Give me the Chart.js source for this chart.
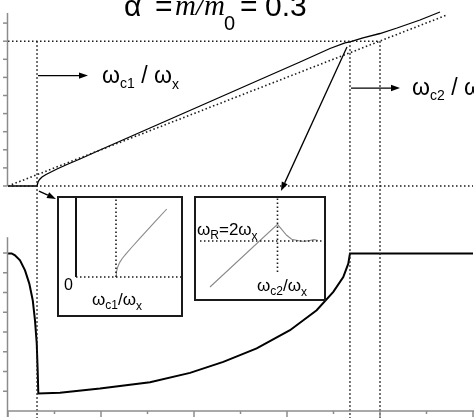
<!DOCTYPE html>
<html><head><meta charset="utf-8">
<script src="https://cdn.jsdelivr.net/npm/chart.js@4"></script>
<style>
html,body{margin:0;padding:0;background:#fff;overflow:hidden;width:474px;height:418px}
#wrap{position:relative;width:474px;height:418px;overflow:hidden}
#main{position:absolute;left:0;top:0}
.inset{position:absolute;border:2px solid #1a1a1a;background:#fff}
.inset canvas{display:block}
.lbl{position:absolute;white-space:nowrap;font-family:"Liberation Sans",Arial,sans-serif;color:#000;line-height:1}
.lbl sub{vertical-align:baseline;position:relative}
</style></head><body>
<div id="wrap">
<canvas id="main" width="474" height="418"></canvas>
<div class="inset" style="left:57px;top:196px;width:122px;height:117px"><canvas id="in1" width="122" height="117"></canvas></div>
<div class="inset" style="left:194px;top:196px;width:128px;height:101px"><canvas id="in2" width="128" height="101"></canvas></div>

<div class="lbl" style="left:124px;top:-9.4px;font-size:30px">α</div>
<div class="lbl" style="left:155px;top:-9.4px;font-size:30px">=</div>
<div class="lbl" style="left:175px;top:-8.6px;font-size:29px;font-family:'Liberation Serif',serif;font-style:italic">m/m</div>
<div class="lbl" style="left:224px;top:13px;font-size:20px">0</div>
<div class="lbl" style="left:240px;top:-9.4px;font-size:30px">=</div>
<div class="lbl" style="left:265px;top:-9.4px;font-size:30px">0.3</div>

<div class="lbl" style="left:102px;top:63.5px;font-size:23px">ω<sub style="font-size:14px;top:5px">c1</sub> / ω<sub style="font-size:14px;top:6px">x</sub></div>
<div class="lbl" style="left:412px;top:75.5px;font-size:23px">ω<sub style="font-size:14px;top:5px">c2</sub> / ω<sub style="font-size:14px;top:6px">x</sub></div>

<div class="lbl" style="left:64px;top:276.5px;font-size:16px">0</div>
<div class="lbl" style="left:92px;top:290.6px;font-size:17px">ω<sub style="font-size:12px;top:4px">c1</sub>/ω<sub style="font-size:12px;top:5px">x</sub></div>
<div class="lbl" style="left:197px;top:220.6px;font-size:17px">ω<sub style="font-size:12px;top:4px">R</sub>=2ω<sub style="font-size:12px;top:5px">x</sub></div>
<div class="lbl" style="left:257px;top:276.6px;font-size:17px">ω<sub style="font-size:12px;top:4px">c2</sub>/ω<sub style="font-size:12px;top:5px">x</sub></div>
</div>
<script>
// ---------------- data ----------------
const wc1 = 0.312;          // ωc1/ωx
const wc2 = 3.677;          // ωc2/ωx
const wEnd = 4.0;           // right dotted vertical
const levelTop = 8;         // dotted horizontal level, upper panel
const topAxisMax = 9.56;
const botAxisMax = 8.8;
const topTicks = [0,1,2,3,4,5,6,7,8,9];
const botTicks = [1,2,3,4,5,6,7,8];
const xMajor = [0,1,2,3,4,5];
const xMinor = [0.5,1.5,2.5,3.5,4.5];

// upper panel, solid curve
const topX = [0,0.312,0.323,0.339,0.366,0.409,0.452,0.527,0.634,0.774,0.989,1.527,2.065,2.602,3.140,3.462,3.624,3.677,3.817,4.000,4.183,4.430,4.645];
const topY = [0,0,0.221,0.359,0.497,0.635,0.746,0.939,1.188,1.492,1.989,3.204,4.420,5.635,6.851,7.597,7.901,7.967,8.177,8.425,8.729,9.171,9.613];
// upper panel, dotted straight line
const diagX = [0,4.72];
const diagY = [0,9.45];
// lower panel, solid curve
const botX = [0,0.040,0.075,0.129,0.183,0.229,0.266,0.290,0.309,0.319,0.326,0.559,0.989,1.527,1.957,2.315,2.674,3.032,3.319,3.498,3.605,3.659,3.677,5.0];
const botY = [7.98,7.98,7.88,7.63,7.12,6.45,5.61,4.60,3.42,2.07,0.89,0.93,1.14,1.46,1.93,2.49,3.17,4.09,5.10,6.03,6.78,7.46,7.98,7.98];
// inset 1 (near ωc1)
const in1X = [1,1.01,1.04,1.09,1.16,1.25,1.4,1.6,1.8,2.0,2.27];
const in1Y = [0,0.12,0.24,0.36,0.47,0.58,0.75,0.97,1.19,1.41,1.70];
// inset 2 (near ωc2)
const in2X = [0,1,1.062,1.136,1.210,1.333,1.407,1.481,1.541,1.600];
const in2Y = [0,1.363,1.254,1.124,1.037,1.0,0.996,1.011,1.033,1.011];
const in2Level = 1, in2Wc2 = 1;

// arrows [x0,y0,x1,y1] in upper-panel units
const arrows = [
  [0.323,6.10,0.86,6.10],
  [3.688,5.41,4.215,5.41],
  [0.333,-0.28,0.516,-0.72],
  [3.645,7.68,2.935,-0.28]
];
// ------------------------------------------------------------

const pts = (xs, ys) => xs.map((v, i) => ({x: v, y: ys[i]}));
const DOT = [1.5, 2.5];

function solid(data, axis, w, color){
  return {data, yAxisID: axis, showLine: true, borderColor: color || '#000', borderWidth: w,
          pointRadius: 0, tension: 0, clip: false, fill: false};
}
function dotted(data, axis){
  return {data, yAxisID: axis, showLine: true, borderColor: '#1a1a1a', borderWidth: 1.6,
          borderDash: DOT, pointRadius: 0, tension: 0, clip: false, fill: false};
}

const TOP_MIN = -12.818, TOP_MAX = 10.276;
const BOT_MIN = -0.354, BOT_MAX = 20.81;

function drawLine(ctx, a, b, c, d){ ctx.beginPath(); ctx.moveTo(a,b); ctx.lineTo(c,d); ctx.stroke(); }

const frame = {
  id: 'frame',
  afterDatasetsDraw(chart){
    const {ctx} = chart;
    const {x, yTop, yBot} = chart.scales;
    ctx.save();
    ctx.strokeStyle = '#8c8c8c';
    ctx.lineWidth = 1.5;
    const x0 = x.getPixelForValue(0) - 0.5;
    drawLine(ctx, x0, yTop.getPixelForValue(0), x0, yTop.getPixelForValue(topAxisMax));
    topTicks.forEach(t => { const p = yTop.getPixelForValue(t); drawLine(ctx, x0 - 4.5, p, x0, p); });
    const yb0 = yBot.getPixelForValue(0);
    drawLine(ctx, x0, yb0 + 6, x0, yBot.getPixelForValue(botAxisMax));
    botTicks.forEach(t => { const p = yBot.getPixelForValue(t); drawLine(ctx, x0 - 4.5, p, x0, p); });
    drawLine(ctx, x0, yb0, chart.width, yb0);
    xMajor.forEach(t => { const p = x.getPixelForValue(t); drawLine(ctx, p, yb0, p, yb0 + 6); });
    xMinor.forEach(t => { const p = x.getPixelForValue(t); drawLine(ctx, p, yb0, p, yb0 + 3); });
    ctx.strokeStyle = '#000'; ctx.fillStyle = '#000'; ctx.lineWidth = 1.3;
    arrows.forEach(([a, b, c, d]) => {
      const px0 = x.getPixelForValue(a), py0 = yTop.getPixelForValue(b);
      const px1 = x.getPixelForValue(c), py1 = yTop.getPixelForValue(d);
      const ang = Math.atan2(py1 - py0, px1 - px0);
      const L = 9, H = 3.2;
      const bx = px1 - L * Math.cos(ang), by = py1 - L * Math.sin(ang);
      drawLine(ctx, px0, py0, bx, by);
      ctx.beginPath();
      ctx.moveTo(px1, py1);
      ctx.lineTo(bx + H * Math.sin(ang), by - H * Math.cos(ang));
      ctx.lineTo(bx - H * Math.sin(ang), by + H * Math.cos(ang));
      ctx.closePath(); ctx.fill();
    });
    ctx.restore();
  }
};

new Chart(document.getElementById('main'), {
  type: 'scatter',
  data: { datasets: [
    dotted(pts([0,5],[0,0]), 'yTop'),
    dotted(pts([0,wEnd],[levelTop,levelTop]), 'yTop'),
    dotted(pts([wc1,wc1],[levelTop,TOP_MIN]), 'yTop'),
    dotted(pts([wc2,wc2],[levelTop,TOP_MIN]), 'yTop'),
    dotted(pts([wEnd,wEnd],[levelTop,TOP_MIN]), 'yTop'),
    dotted(pts(diagX, diagY), 'yTop'),
    solid(pts(topX, topY), 'yTop', 1.3),
    solid(pts(botX, botY), 'yBot', 2)
  ]},
  options: {
    responsive: false, animation: false, devicePixelRatio: 1,
    layout: { padding: {left: 8, right: 1, top: 0, bottom: 0} },
    plugins: { legend: {display: false}, tooltip: {enabled: false}, title: {display: false} },
    scales: {
      x: {type: 'linear', min: 0, max: 5, display: false},
      yTop: {type: 'linear', min: TOP_MIN, max: TOP_MAX, display: false},
      yBot: {type: 'linear', min: BOT_MIN, max: BOT_MAX, display: false}
    }
  },
  plugins: [frame]
});

new Chart(document.getElementById('in1'), {
  type: 'scatter',
  data: { datasets: [
    dotted(pts([0,3],[0,0]), 'y'),
    dotted(pts([1,1],[0,3]), 'y'),
    solid(pts([0,0],[0,3]), 'y', 2, '#111'),
    solid(pts(in1X, in1Y), 'y', 1.1, '#8a8a8a')
  ]},
  options: {
    responsive: false, animation: false, devicePixelRatio: 1,
    layout: { padding: 0 },
    plugins: { legend: {display: false}, tooltip: {enabled: false} },
    scales: {
      x: {type: 'linear', min: -0.425, max: 2.625, display: false},
      y: {type: 'linear', min: -0.95, max: 1.975, display: false}
    }
  }
});

new Chart(document.getElementById('in2'), {
  type: 'scatter',
  data: { datasets: [
    dotted(pts([-0.148,2],[in2Level,in2Level]), 'y'),
    dotted(pts([in2Wc2,in2Wc2],[0.326,3]), 'y'),
    solid(pts(in2X, in2Y), 'y', 1.1, '#8a8a8a')
  ]},
  options: {
    responsive: false, animation: false, devicePixelRatio: 1,
    layout: { padding: 0 },
    plugins: { legend: {display: false}, tooltip: {enabled: false} },
    scales: {
      x: {type: 'linear', min: -0.207, max: 1.689, display: false},
      y: {type: 'linear', min: -0.261, max: 1.935, display: false}
    }
  }
});
</script>
</body></html>
